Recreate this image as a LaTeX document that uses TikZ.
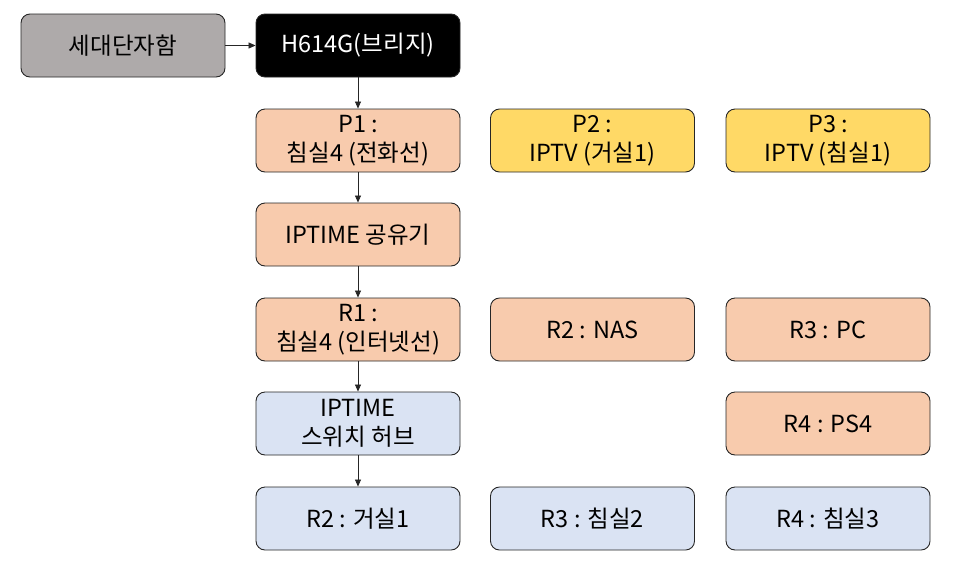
\documentclass[tikz,border=0pt]{standalone}
\usepackage{fontspec}
\setmainfont{Noto Sans CJK KR}
\usetikzlibrary{arrows.meta}
\definecolor{cgray}{HTML}{AEAAAA}
\definecolor{corange}{HTML}{F8CBAD}
\definecolor{cyellow}{HTML}{FFD966}
\definecolor{cblue}{HTML}{DAE3F3}
\tikzset{
  box/.style={draw=black!85, line width=0.9pt, rounded corners=9pt, minimum width=204pt, minimum height=63pt, align=center, font=\fontsize{23.5}{29}\selectfont, inner sep=0pt},
  conn/.style={-{Triangle[length=7pt,width=6pt]}, line width=0.7pt, draw=black!85}
}
\begin{document}
\begin{tikzpicture}[x=1pt,y=-1pt]
\useasboundingbox (0,0) rectangle (963,563);
\node[box, fill=cgray] (sede) at (123,45.5) {세대단자함};
\node[box, fill=black, text=white] (h614) at (358,45.5) {H614G(브리지)};
\node[box, fill=corange] (p1) at (358,140.5) {P1 :\\침실4 (전화선)};
\node[box, fill=cyellow] (p2) at (592.5,140.5) {P2 :\\IPTV (거실1)};
\node[box, fill=cyellow] (p3) at (828,140.5) {P3 :\\IPTV (침실1)};
\node[box, fill=corange] (ipt) at (358,234.5) {IPTIME 공유기};
\node[box, fill=corange] (r1) at (358,329.5) {R1 :\\침실4 (인터넷선)};
\node[box, fill=corange] (nas) at (592.5,329.5) {R2 : NAS};
\node[box, fill=corange] (pc) at (828,329.5) {R3 : PC};
\node[box, fill=cblue] (sw) at (358,423.5) {IPTIME\\스위치 허브};
\node[box, fill=corange] (ps4) at (828,423.5) {R4 : PS4};
\node[box, fill=cblue] (g1) at (358,518.5) {R2 : 거실1};
\node[box, fill=cblue] (b2) at (592.5,518.5) {R3 : 침실2};
\node[box, fill=cblue] (b3) at (828,518.5) {R4 : 침실3};
\draw[conn] (sede) -- (h614);
\draw[conn] (h614) -- (p1);
\draw[conn] (p1) -- (ipt);
\draw[conn] (ipt) -- (r1);
\draw[conn] (r1) -- (sw);
\draw[conn] (sw) -- (g1);
\end{tikzpicture}
\end{document}
